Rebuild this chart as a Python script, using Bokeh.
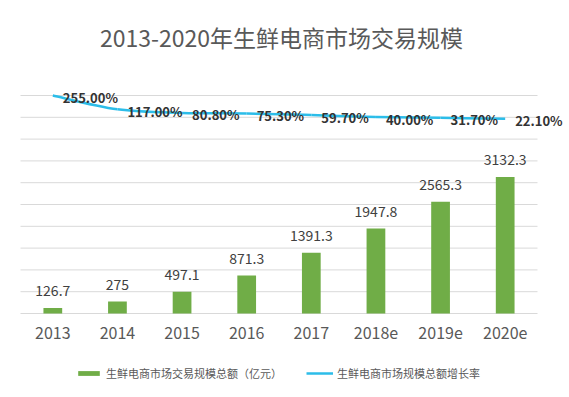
from bokeh.plotting import figure
from bokeh.models import (ColumnDataSource, Range1d, Label, Legend, LegendItem)
from bokeh.core.properties import value
from bokeh.embed import file_html
from bokeh.resources import INLINE

# Data
years = ["2013", "2014", "2015", "2016", "2017", "2018e", "2019e", "2020e"]
totals = [126.7, 275, 497.1, 871.3, 1391.3, 1947.8, 2565.3, 3132.3]          # 亿元
growth = [255.00, 117.00, 80.80, 75.30, 59.70, 40.00, 31.70, 22.10]          # %
grid_values = [0, 500, 1000, 1500, 2000, 2500, 3000, 3500, 4000, 4500, 5000]

title_text = "2013-2020年生鲜电商市场交易规模"
bar_name = "生鲜电商市场交易规模总额（亿元）"
line_name = "生鲜电商市场规模总额增长率"

FONT = "Noto Sans CJK SC"
BAR_COLOR = "#70AD47"
LINE_COLOR = "#2CBDE9"

W, H = 569, 397
# plot band: categories span x pixels 20..537, values 0..5000 span y pixels 313..95
left_px, right_px, top_px, base_px = 20, 537, 95, 313
n = len(years)
px_per_cat = (right_px - left_px) / n
px_per_val = (base_px - top_px) / grid_values[-1]
x_range = Range1d(-left_px / px_per_cat, (W - left_px) / px_per_cat)
y_range = Range1d(-(H - base_px) / px_per_val, grid_values[-1] + top_px / px_per_val)

# growth-rate scale: 255% sits on the top grid line, 0.1 px per percentage point
rate_px = 0.1
rate_top = growth[0]
rate_range = Range1d(rate_top - (H - top_px) / rate_px, rate_top + top_px / rate_px)

p = figure(width=W, height=H, x_range=x_range, y_range=y_range,
           output_backend="svg", toolbar_location=None,
           min_border=0, min_border_left=0, min_border_right=0,
           min_border_top=0, min_border_bottom=0)
p.extra_y_ranges = {"rate": rate_range}
p.outline_line_color = None
p.background_fill_color = "white"
p.border_fill_color = "white"
p.xaxis.visible = False
p.yaxis.visible = False
p.xgrid.visible = False
p.ygrid.visible = False

xs = [i + 0.5 for i in range(n)]

# horizontal grid lines across the category band
p.segment(x0=[0] * len(grid_values), x1=[n] * len(grid_values),
          y0=grid_values, y1=grid_values, line_color="#D9D9D9", line_width=1)

# category labels under the baseline
p.text(x=xs, y=[0] * n, text=years, y_offset=19, text_align="center",
       text_baseline="middle", text_font=value(FONT), text_font_size="16px",
       text_color="#595959")

# bars and their values
bar_src = ColumnDataSource(dict(x=xs, total=totals,
                                label=[f"{v:g}" for v in totals]))
bars = p.vbar(x="x", top="total", width=0.29, source=bar_src,
              fill_color=BAR_COLOR, line_color=None)
p.text(x="x", y="total", text="label", source=bar_src, y_offset=-17,
       text_align="center", text_baseline="middle", text_font=value(FONT),
       text_font_size="14px", text_color="#404040")

# smoothed growth-rate line: cubic Bezier segments through the points
x0, y0, x1, y1, cx0, cy0, cx1, cy1 = ([] for _ in range(8))
for i in range(n - 1):
    ip = max(i - 1, 0)
    inx = min(i + 2, n - 1)
    x0.append(xs[i]); y0.append(growth[i])
    x1.append(xs[i + 1]); y1.append(growth[i + 1])
    cx0.append(xs[i] + (xs[i + 1] - xs[ip]) / 6)
    cy0.append(growth[i] + (growth[i + 1] - growth[ip]) / 6)
    cx1.append(xs[i + 1] - (xs[inx] - xs[i]) / 6)
    cy1.append(growth[i + 1] - (growth[inx] - growth[i]) / 6)
curve = p.bezier(x0=x0, y0=y0, x1=x1, y1=y1, cx0=cx0, cy0=cy0, cx1=cx1, cy1=cy1,
                 y_range_name="rate", line_color=LINE_COLOR, line_width=2.5)

p.text(x=xs, y=growth, text=[f"{v:.2f}%" for v in growth], y_range_name="rate",
       x_offset=10, y_offset=2, text_align="left", text_baseline="middle",
       text_font=value(FONT), text_font_size="13px", text_font_style="bold",
       text_color="#333333")

# title
p.add_layout(Label(x=281, y=H - 36, x_units="screen", y_units="screen", text=title_text,
                   text_align="center", text_baseline="middle",
                   text_font=FONT, text_font_size="23px", text_color="#595959"))

# legend under the category labels
legend = Legend(items=[LegendItem(label=bar_name, renderers=[bars]),
                       LegendItem(label=line_name, renderers=[curve])],
                orientation="horizontal", location=(75, H - 381),
                glyph_width=27, glyph_height=6, label_standoff=4, spacing=24,
                label_text_font=FONT, label_text_font_size="11px",
                label_text_color="#595959", border_line_color=None,
                background_fill_alpha=0, padding=0, margin=0)
p.add_layout(legend, "center")

open("out.html", "w").write(file_html(p, INLINE))
